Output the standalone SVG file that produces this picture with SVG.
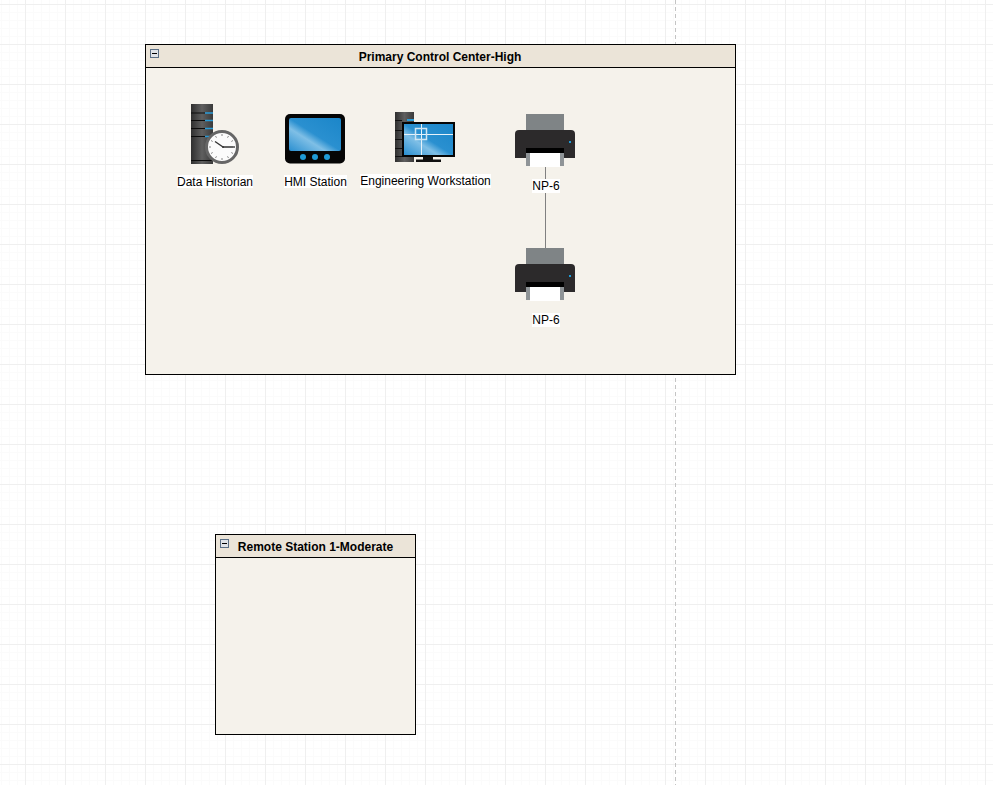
<svg xmlns="http://www.w3.org/2000/svg" width="993" height="785" viewBox="0 0 993 785">
<style>
text{font-family:"Liberation Sans",Arial,sans-serif;font-size:12px;fill:#000;text-anchor:middle}
.title{font-weight:bold}
.lbl{fill:#fff}
.panel{fill:#f5f2eb;stroke:#000;stroke-width:1}
.head{fill:#ebe4d8;stroke:#000;stroke-width:1}
.btnbox{fill:#dfe3e8;stroke:#5b6f86;stroke-width:1}
.btnbar{stroke:#000;stroke-width:1}
.wire{stroke:#808080;stroke-width:1;fill:none}
</style>
<defs>
<pattern id="minor" width="8" height="8" patternUnits="userSpaceOnUse" x="1" y="4">
<path d="M0.5 0V8M0 0.5H8" stroke="#fbfbfb" stroke-width="1" fill="none"/>
</pattern>
<pattern id="major" width="40" height="40" patternUnits="userSpaceOnUse" x="25" y="4">
<path d="M0.5 0V40M0 0.5H40" stroke="#efefef" stroke-width="1" fill="none"/>
</pattern>
<linearGradient id="tower" x1="0" x2="1" y1="0" y2="0"><stop offset="0" stop-color="#2f2f2f"/><stop offset="0.5" stop-color="#5f5f5f"/><stop offset="1" stop-color="#3a3a3a"/></linearGradient>
<linearGradient id="screen" x1="0" x2="1" y1="1" y2="0"><stop offset="0" stop-color="#2a8fd0"/><stop offset="0.35" stop-color="#7fbfe6"/><stop offset="0.5" stop-color="#2a90d0"/><stop offset="1" stop-color="#1b86c9"/></linearGradient>
<g id="printer">
<rect x="526" y="114" width="38" height="17" fill="#7f8486"/>
<path d="M519 130H571Q575 130 575 134V158H515V134Q515 130 519 130Z" fill="#2c2a2b"/>
<rect x="526" y="152" width="38" height="14" fill="#8f9497"/>
<rect x="526" y="148" width="38" height="5" fill="#000"/>
<rect x="530" y="153" width="30" height="14" fill="#fff"/>
<rect x="569" y="141" width="2" height="2" fill="#1f9ad6"/>
</g>
</defs>
<rect width="993" height="785" fill="#fff"/>
<rect width="993" height="785" fill="url(#minor)"/>
<rect width="993" height="785" fill="url(#major)"/>
<path d="M675.5 0V785" stroke="#c4c4c4" stroke-width="1" stroke-dasharray="4 3" fill="none"/>

<g id="panel-primary">
<rect class="panel" x="145.5" y="44.5" width="590" height="330"/>
<rect class="head" x="145.5" y="44.5" width="590" height="23"/>
<rect class="btnbox" x="150.5" y="49.5" width="8" height="8"/>
<path class="btnbar" d="M152 53.5H157"/>
<text class="title" x="440" y="61">Primary Control Center-High</text>
</g>
<g id="panel-remote">
<rect class="panel" x="215.5" y="534.5" width="200" height="200"/>
<rect class="head" x="215.5" y="534.5" width="200" height="23"/>
<rect class="btnbox" x="220.5" y="539.5" width="8" height="8"/>
<path class="btnbar" d="M222 543.5H227"/>
<text class="title" x="315.500" y="551">Remote Station 1-Moderate</text>
</g>

<g id="connectors">
<path class="wire" d="M545.5 167V248"/>
</g>

<g id="node-data-historian">
<rect x="191" y="104" width="22" height="60" fill="url(#tower)"/>
<path d="M191 113H205M191 120.500H205M191 128.500H205M191 136.500H205M191 160.500H213" stroke="#0c0c0c" stroke-width="1.200"/>
<path d="M205 113H213M205 120.500H213M205 128.500H213M205 136.500H213" stroke="#2a9bd6" stroke-width="1.500"/>
<circle cx="222" cy="147" r="15.500" fill="#fbfbfb" stroke="#666" stroke-width="3"/>
<path d="M223 147L215 141.500M223 147H235" stroke="#333" stroke-width="1.400" fill="none"/>
<circle cx="223" cy="147" r="1" fill="#333"/>
<path d="M222 134v2M222 158v2M209 147h2M233 147h2M228.500 136l-1 1.700M215.500 136l1 1.700M228.500 158l-1 -1.700M215.500 158l1 -1.700M233 140.500l-1.700 1M211 140.500l1.700 1M233 153.500l-1.700 -1M211 153.500l1.700 -1" stroke="#888" stroke-width="1"/>
<rect class="lbl" x="177" y="175" width="76" height="13"/>
<text x="215" y="186">Data Historian</text>
</g>

<g id="node-hmi-station">
<rect x="285" y="114" width="60" height="49.500" rx="5" fill="#050505"/>
<rect x="289" y="118" width="52" height="33" rx="2" fill="url(#screen)"/>
<circle cx="303" cy="157" r="3" fill="#1f9ad6"/>
<circle cx="315" cy="157" r="3" fill="#1f9ad6"/>
<circle cx="327" cy="157" r="3" fill="#1f9ad6"/>
<rect class="lbl" x="284" y="175" width="63" height="13"/>
<text x="315.500" y="186">HMI Station</text>
</g>

<g id="node-engineering-workstation">
<rect x="395" y="112" width="19" height="50" fill="url(#tower)"/>
<path d="M395 120.500H402M395 130.500H402M395 139.500H402M395 148.500H402M395 156.500H402" stroke="#111" stroke-width="1"/>
<rect x="407" y="119" width="7" height="2" fill="#2a9bd6"/>
<rect x="402" y="122" width="53" height="35" fill="#050505"/>
<rect x="404" y="124" width="49" height="31" fill="url(#screen)"/>
<path d="M404 134.500H453M421.500 124V155" stroke="#e6f2fa" stroke-width="1"/>
<rect x="415.500" y="128.500" width="11" height="11" fill="none" stroke="#cfe5f3" stroke-width="1.500"/>
<rect x="423" y="157" width="10" height="3" fill="#111"/>
<rect x="416" y="159.500" width="25" height="2.500" fill="#111"/>
<rect class="lbl" x="360" y="174" width="131" height="14"/>
<text x="425.500" y="185">Engineering Workstation</text>
</g>

<g id="node-np6-a">
<use href="#printer"/>
<rect class="lbl" x="532" y="179" width="28" height="14"/>
<text x="546" y="190">NP-6</text>
</g>

<g id="node-np6-b">
<use href="#printer" y="134"/>
<rect class="lbl" x="532" y="313" width="28" height="14"/>
<text x="546" y="324">NP-6</text>
</g>
</svg>
